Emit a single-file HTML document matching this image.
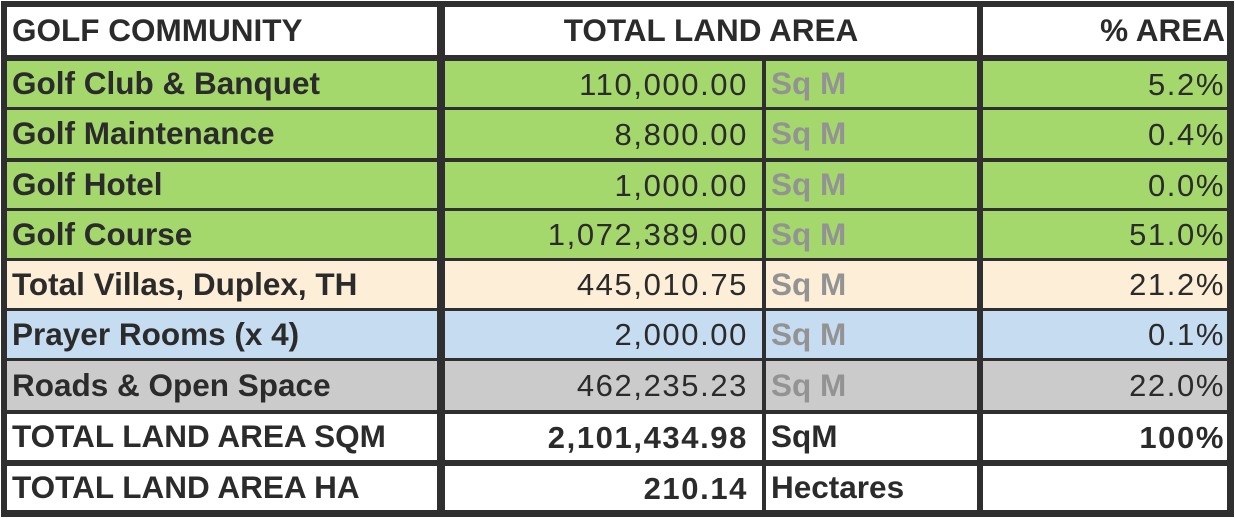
<!DOCTYPE html>
<html><head><meta charset="utf-8"><style>
body{margin:0;width:1235px;height:519px;background:#fff;position:relative;overflow:hidden;font-family:"Liberation Sans",sans-serif;color:#2b2b2b}
#bg{position:absolute;left:1px;top:1px;width:1233px;height:516px;background:#2f2f2f}
.c{position:absolute;box-sizing:border-box;font-size:31.5px;line-height:1;display:flex;align-items:center;white-space:nowrap}
.b{font-weight:bold}
.r{justify-content:flex-end;padding-right:2px}
.l{padding-left:5px}
.n{letter-spacing:1.6px;font-size:31px}
.p{padding-right:14px}
.g{background:#a5d86c}.y{background:#fdefd7}.u{background:#c6dcf1}.s{background:#cbcbcb}.w{background:#fff}
.sq{color:#939393;font-weight:bold}
</style></head><body>
<div id="bg"></div>
<div class="c w b l" style="left:7px;top:7px;width:430px;height:48px">GOLF COMMUNITY</div>
<div class="c w b" style="left:445px;top:7px;width:532px;height:48px;justify-content:center">TOTAL LAND AREA</div>
<div class="c w b r" style="left:983px;top:7px;width:244px;height:48px">% AREA</div>

<div class="c g b l" style="left:7px;top:61px;width:430px;height:46px">Golf Club &amp; Banquet</div>
<div class="c g r n p" style="left:445px;top:61px;width:317px;height:46px">110,000.00</div>
<div class="c g l sq" style="left:766px;top:61px;width:211px;height:46px">Sq M</div>
<div class="c g r n" style="left:983px;top:61px;width:244px;height:46px">5.2%</div>

<div class="c g b l" style="left:7px;top:110px;width:430px;height:48px">Golf Maintenance</div>
<div class="c g r n p" style="left:445px;top:110px;width:317px;height:48px">8,800.00</div>
<div class="c g l sq" style="left:766px;top:110px;width:211px;height:48px">Sq M</div>
<div class="c g r n" style="left:983px;top:110px;width:244px;height:48px">0.4%</div>

<div class="c g b l" style="left:7px;top:162px;width:430px;height:46px">Golf Hotel</div>
<div class="c g r n p" style="left:445px;top:162px;width:317px;height:46px">1,000.00</div>
<div class="c g l sq" style="left:766px;top:162px;width:211px;height:46px">Sq M</div>
<div class="c g r n" style="left:983px;top:162px;width:244px;height:46px">0.0%</div>

<div class="c g b l" style="left:7px;top:211px;width:430px;height:47px">Golf Course</div>
<div class="c g r n p" style="left:445px;top:211px;width:317px;height:47px">1,072,389.00</div>
<div class="c g l sq" style="left:766px;top:211px;width:211px;height:47px">Sq M</div>
<div class="c g r n" style="left:983px;top:211px;width:244px;height:47px">51.0%</div>

<div class="c y b l" style="left:7px;top:261px;width:430px;height:47px">Total Villas, Duplex, TH</div>
<div class="c y r n p" style="left:445px;top:261px;width:317px;height:47px">445,010.75</div>
<div class="c y l sq" style="left:766px;top:261px;width:211px;height:47px">Sq M</div>
<div class="c y r n" style="left:983px;top:261px;width:244px;height:47px">21.2%</div>

<div class="c u b l" style="left:7px;top:311px;width:430px;height:47px">Prayer Rooms (x 4)</div>
<div class="c u r n p" style="left:445px;top:311px;width:317px;height:47px">2,000.00</div>
<div class="c u l sq" style="left:766px;top:311px;width:211px;height:47px">Sq M</div>
<div class="c u r n" style="left:983px;top:311px;width:244px;height:47px">0.1%</div>

<div class="c s b l" style="left:7px;top:361px;width:430px;height:49px">Roads &amp; Open Space</div>
<div class="c s r n p" style="left:445px;top:361px;width:317px;height:49px">462,235.23</div>
<div class="c s l sq" style="left:766px;top:361px;width:211px;height:49px">Sq M</div>
<div class="c s r n" style="left:983px;top:361px;width:244px;height:49px">22.0%</div>

<div class="c w b l" style="left:7px;top:414px;width:430px;height:46px">TOTAL LAND AREA SQM</div>
<div class="c w b r n p" style="left:445px;top:414px;width:317px;height:46px">2,101,434.98</div>
<div class="c w b l" style="left:766px;top:414px;width:211px;height:46px">SqM</div>
<div class="c w b r n" style="left:983px;top:414px;width:244px;height:46px">100%</div>

<div class="c w b l" style="left:7px;top:466px;width:430px;height:44px">TOTAL LAND AREA HA</div>
<div class="c w b r n p" style="left:445px;top:466px;width:317px;height:44px">210.14</div>
<div class="c w b l" style="left:766px;top:466px;width:211px;height:44px">Hectares</div>
<div class="c w" style="left:983px;top:466px;width:244px;height:44px"></div>
</body></html>
